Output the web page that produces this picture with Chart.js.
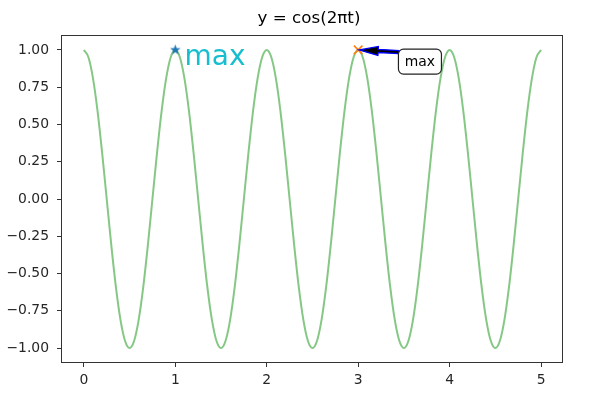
<!DOCTYPE html>
<html>
<head>
<meta charset="utf-8">
<title>y = cos(2πt)</title>
<script src="https://cdn.jsdelivr.net/npm/chart.js"></script>
<style>
  html, body { margin: 0; padding: 0; background: #fff; }
  canvas { display: block; }
</style>
</head>
<body>
<canvas id="chart" width="592" height="398"></canvas>
<script>
// t samples (step 0.05) and y = cos(2πt)
const tValues = [
  0.00, 0.05, 0.10, 0.15, 0.20, 0.25, 0.30, 0.35, 0.40, 0.45,
  0.50, 0.55, 0.60, 0.65, 0.70, 0.75, 0.80, 0.85, 0.90, 0.95,
  1.00, 1.05, 1.10, 1.15, 1.20, 1.25, 1.30, 1.35, 1.40, 1.45,
  1.50, 1.55, 1.60, 1.65, 1.70, 1.75, 1.80, 1.85, 1.90, 1.95,
  2.00, 2.05, 2.10, 2.15, 2.20, 2.25, 2.30, 2.35, 2.40, 2.45,
  2.50, 2.55, 2.60, 2.65, 2.70, 2.75, 2.80, 2.85, 2.90, 2.95,
  3.00, 3.05, 3.10, 3.15, 3.20, 3.25, 3.30, 3.35, 3.40, 3.45,
  3.50, 3.55, 3.60, 3.65, 3.70, 3.75, 3.80, 3.85, 3.90, 3.95,
  4.00, 4.05, 4.10, 4.15, 4.20, 4.25, 4.30, 4.35, 4.40, 4.45,
  4.50, 4.55, 4.60, 4.65, 4.70, 4.75, 4.80, 4.85, 4.90, 4.95,
  5.00
];
const yValues = [
  1, 0.951, 0.809, 0.588, 0.309, 0, -0.309, -0.588, -0.809, -0.951,
  -1, -0.951, -0.809, -0.588, -0.309, 0, 0.309, 0.588, 0.809, 0.951,
  1, 0.951, 0.809, 0.588, 0.309, 0, -0.309, -0.588, -0.809, -0.951,
  -1, -0.951, -0.809, -0.588, -0.309, 0, 0.309, 0.588, 0.809, 0.951,
  1, 0.951, 0.809, 0.588, 0.309, 0, -0.309, -0.588, -0.809, -0.951,
  -1, -0.951, -0.809, -0.588, -0.309, 0, 0.309, 0.588, 0.809, 0.951,
  1, 0.951, 0.809, 0.588, 0.309, 0, -0.309, -0.588, -0.809, -0.951,
  -1, -0.951, -0.809, -0.588, -0.309, 0, 0.309, 0.588, 0.809, 0.951,
  1, 0.951, 0.809, 0.588, 0.309, 0, -0.309, -0.588, -0.809, -0.951,
  -1, -0.951, -0.809, -0.588, -0.309, 0, 0.309, 0.588, 0.809, 0.951,
  1
];

// marked maxima
const starPointX = [1];
const starPointY = [1];
const crossPointX = [3];
const crossPointY = [1];

// tick labels
const xTickValues = [0, 1, 2, 3, 4, 5];
const xTickLabels = ['0', '1', '2', '3', '4', '5'];
const yTickValues = [-1, -0.75, -0.5, -0.25, 0, 0.25, 0.5, 0.75, 1];
const yTickLabels = ['\u22121.00', '\u22120.75', '\u22120.50', '\u22120.25', '0.00', '0.25', '0.50', '0.75', '1.00'];

const titleText = 'y = cos(2\u03c0t)';
const bigLabel = { text: 'max', x: 1.1, y: 0.9 };
const boxLabel = { text: 'max', x: 3.67, y: 0.925 };

const FONT = '"DejaVu Sans", sans-serif';

// filled five point star marker (matplotlib '*')
function makeStar(r, color) {
    const c = document.createElement('canvas');
    const s = Math.ceil(r * 2 + 2);
    c.width = s; c.height = s;
    const g = c.getContext('2d');
    g.beginPath();
    for (let i = 0; i < 10; i++) {
        const rad = i % 2 === 0 ? r : r * 0.42;
        const a = -Math.PI / 2 + i * Math.PI / 5;
        const px = s / 2 + rad * Math.cos(a);
        const py = s / 2 + rad * Math.sin(a);
        if (i === 0) g.moveTo(px, py); else g.lineTo(px, py);
    }
    g.closePath();
    g.fillStyle = color;
    g.fill();
    return c;
}
const starImg = makeStar(5.5, '#1f77b4');

// axes frame, title and the text annotations
const decorations = {
    id: 'decorations',
    afterDatasetsDraw(chart) {
        const { ctx, chartArea: a, scales: { x, y } } = chart;
        ctx.save();

        // frame
        ctx.strokeStyle = '#333';
        ctx.lineWidth = 1;
        ctx.strokeRect(Math.round(a.left) + 0.5, Math.round(a.top) + 0.5,
            Math.round(a.right - a.left) - 1, Math.round(a.bottom - a.top) - 1);

        // title
        ctx.fillStyle = '#000';
        ctx.font = '16.7px ' + FONT;
        ctx.textAlign = 'center';
        ctx.textBaseline = 'alphabetic';
        ctx.fillText(titleText, (a.left + a.right) / 2 - 3, 23);

        // big cyan label
        ctx.fillStyle = '#17becf';
        ctx.font = '28px ' + FONT;
        ctx.textAlign = 'left';
        ctx.fillText(bigLabel.text, x.getPixelForValue(bigLabel.x), y.getPixelForValue(bigLabel.y));

        // boxed label
        const bx = x.getPixelForValue(boxLabel.x);
        const by = y.getPixelForValue(boxLabel.y);
        const bw = 43, bh = 25;
        const left = bx - bw / 2, top = by - bh / 2;

        // arrow from box to the crossed maximum
        const tipX = x.getPixelForValue(crossPointX[0]) + 1;
        const tipY = y.getPixelForValue(crossPointY[0]);
        const sx = left + 1, sy = top + 3.5;
        const ang = Math.atan2(tipY - sy, tipX - sx);
        const len = Math.hypot(tipX - sx, tipY - sy);
        const headLen = 19, headW = 4.5, shaftW = 1.6;
        ctx.translate(sx, sy);
        ctx.rotate(ang);
        ctx.beginPath();
        ctx.moveTo(0, -shaftW);
        ctx.lineTo(len - headLen, -shaftW);
        ctx.lineTo(len - headLen, -headW);
        ctx.lineTo(len, 0);
        ctx.lineTo(len - headLen, headW);
        ctx.lineTo(len - headLen, shaftW);
        ctx.lineTo(0, shaftW);
        ctx.closePath();
        ctx.fillStyle = '#000';
        ctx.fill();
        ctx.strokeStyle = '#0000ff';
        ctx.lineWidth = 1.3;
        ctx.lineJoin = 'miter';
        ctx.stroke();
        ctx.setTransform(1, 0, 0, 1, 0, 0);

        ctx.beginPath();
        ctx.roundRect(left + 0.5, top + 0.5, bw, bh, 5);
        ctx.fillStyle = '#fff';
        ctx.fill();
        ctx.strokeStyle = '#222';
        ctx.lineWidth = 1.2;
        ctx.stroke();

        ctx.fillStyle = '#000';
        ctx.font = '13.9px ' + FONT;
        ctx.textAlign = 'center';
        ctx.textBaseline = 'middle';
        ctx.fillText(boxLabel.text, bx + 0.5, by + 1);

        ctx.restore();
    }
};

const ctx = document.getElementById('chart').getContext('2d');
new Chart(ctx, {
    type: 'line',
    data: {
        datasets: [
            {
                data: starPointX.map((v, i) => ({ x: v, y: starPointY[i] })),
                showLine: false,
                pointStyle: starImg,
                pointRadius: 6,
                order: 0
            },
            {
                data: crossPointX.map((v, i) => ({ x: v, y: crossPointY[i] })),
                showLine: false,
                pointStyle: 'crossRot',
                pointRadius: 6,
                borderColor: '#ff7f0e',
                borderWidth: 1.6,
                order: 0
            },
            {
                data: tValues.map((t, i) => ({ x: t, y: yValues[i] })),
                borderColor: 'rgba(44, 160, 44, 0.58)',
                borderWidth: 2,
                pointRadius: 0,
                cubicInterpolationMode: 'monotone',
                fill: false,
                order: 2
            }
        ]
    },
    options: {
        responsive: false,
        animation: false,
        devicePixelRatio: 1,
        layout: { padding: { top: 35, right: 29, left: 0, bottom: 0 } },
        plugins: {
            legend: { display: false },
            tooltip: { enabled: false }
        },
        scales: {
            x: {
                type: 'linear',
                min: -0.25,
                max: 5.24,
                afterBuildTicks: s => { s.ticks = xTickValues.map(v => ({ value: v })); },
                afterFit: s => { s.height = 35; },
                grid: { drawOnChartArea: false, drawTicks: true, tickLength: 4, color: '#333' },
                border: { display: false },
                ticks: {
                    color: '#262626',
                    padding: 5,
                    maxRotation: 0,
                    font: { family: FONT, size: 13.9 },
                    callback: (v, i) => xTickLabels[i]
                }
            },
            y: {
                type: 'linear',
                min: -1.1,
                max: 1.1,
                afterBuildTicks: s => { s.ticks = yTickValues.map(v => ({ value: v })); },
                afterFit: s => { s.width = 61; },
                grid: { drawOnChartArea: false, drawTicks: true, tickLength: 4, color: '#333' },
                border: { display: false },
                ticks: {
                    color: '#262626',
                    padding: 8,
                    font: { family: FONT, size: 13.9 },
                    callback: (v, i) => yTickLabels[i]
                }
            }
        }
    },
    plugins: [decorations]
});
</script>
</body>
</html>
